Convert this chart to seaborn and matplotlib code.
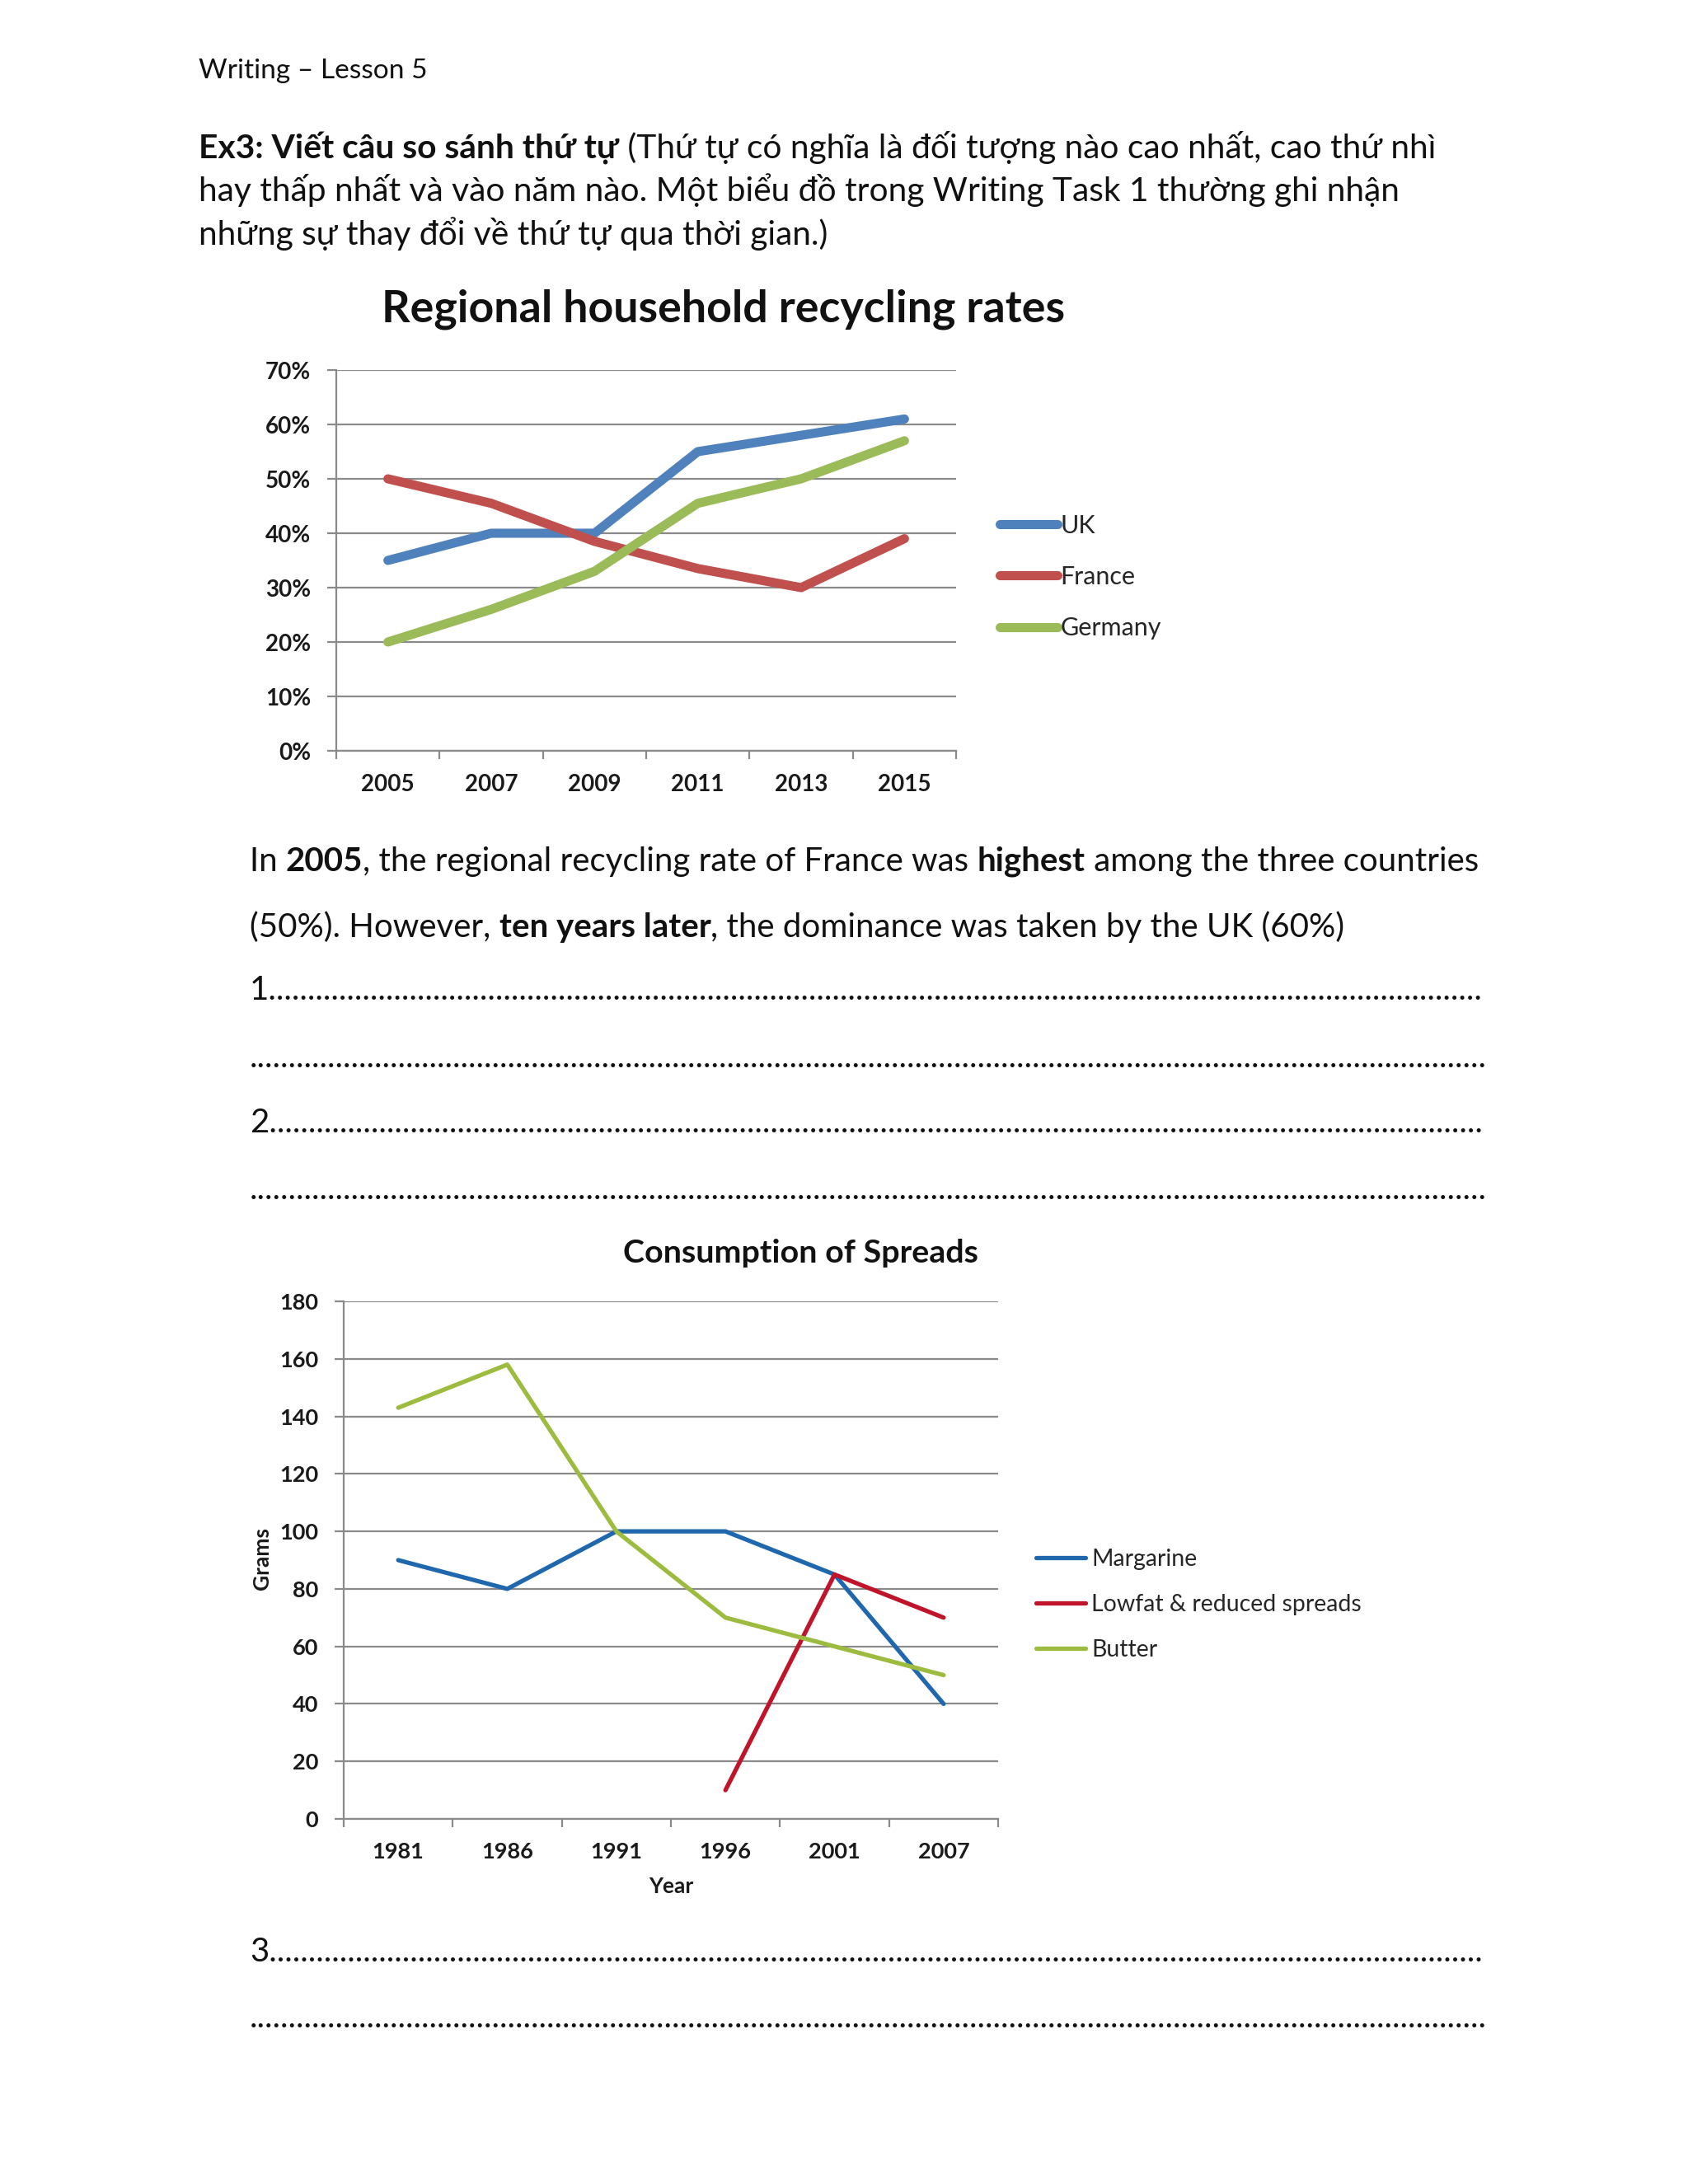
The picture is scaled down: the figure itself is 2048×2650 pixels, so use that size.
import numpy as np
import pandas as pd
import matplotlib
matplotlib.use("Agg")
import matplotlib.pyplot as plt
import seaborn as sns
from matplotlib.transforms import IdentityTransform
from matplotlib.ticker import FuncFormatter

# ---------------- data ----------------
rec_years = ["2005", "2007", "2009", "2011", "2013", "2015"]
rec_uk = [35, 40, 40, 55, 58, 61]
rec_france = [50, 45.5, 38.5, 33.5, 30, 39]
rec_germany = [20, 26, 33, 45.5, 50, 57]
rec_yticks = [0, 10, 20, 30, 40, 50, 60, 70]

spr_years = ["1981", "1986", "1991", "1996", "2001", "2007"]
spr_margarine = [90, 80, 100, 100, 85, 40]
spr_lowfat = [np.nan, np.nan, np.nan, 10, 85, 70]
spr_butter = [143, 158, 100, 70, 60, 50]
spr_yticks = [0, 20, 40, 60, 80, 100, 120, 140, 160, 180]

# ---------------- setup ----------------
W, H, DPI = 2048, 2650, 100
sns.set_theme(style="white")
FAM = ["Lato", "Noto Sans", "DejaVu Sans"]
plt.rcParams["font.family"] = FAM

fig = plt.figure(figsize=(W / DPI, H / DPI), dpi=DPI)
fig.patch.set_facecolor("white")
renderer = fig.canvas.get_renderer()
PIX = IdentityTransform()
GRID = "#8a8a8a"
TXT = "#111111"


def box(l, t, r, b):
    return [l / W, 1 - b / H, (r - l) / W, (b - t) / H]


def seg_w(s, fs, weight):
    t = fig.text(0, 0, s + "|", fontsize=fs, fontweight=weight, family=FAM, transform=PIX)
    m = fig.text(0, 0, "|", fontsize=fs, fontweight=weight, family=FAM, transform=PIX)
    w = t.get_window_extent(renderer).width - m.get_window_extent(renderer).width
    t.remove()
    m.remove()
    return w


def line_w(segs, fs):
    return sum(seg_w(s, fs, "bold" if b else "normal") for s, b in segs)


def fit(segs, target, fs0=30.0):
    return fs0 * target / line_w(segs, fs0)


def draw_line(segs, x, ybase, fs, color=TXT, center=False):
    if center:
        x = x - line_w(segs, fs) / 2
    for s, b in segs:
        wt = "bold" if b else "normal"
        fig.text(x, H - ybase, s, fontsize=fs, fontweight=wt, family=FAM,
                 transform=PIX, va="baseline", ha="left", color=color)
        x += seg_w(s, fs, wt)
    return x


def dots(prefix, x, ybase, x_end, fs):
    dw = seg_w("." * 200, fs, "normal") / 200
    pw = seg_w(prefix, fs, "normal") if prefix else 0
    n = int((x_end - x - pw) / dw)
    fig.text(x, H - ybase, prefix + "." * n, fontsize=fs, family=FAM,
             transform=PIX, va="baseline", ha="left", color=TXT)


# ---------------- page text ----------------
hdr = [("Writing \u2013 Lesson 5", False)]
draw_line(hdr, 241, 95, fit(hdr, 277))

ex1 = [("Ex3: Vi\u1ebft c\u00e2u so s\u00e1nh th\u1ee9 t\u1ef1", True),
       (" (Th\u1ee9 t\u1ef1 c\u00f3 ngh\u0129a l\u00e0 \u0111\u1ed1i t\u01b0\u1ee3ng n\u00e0o cao nh\u1ea5t, cao th\u1ee9 nh\u00ec", False)]
ex2 = [("hay th\u1ea5p nh\u1ea5t v\u00e0 v\u00e0o n\u0103m n\u00e0o. M\u1ed9t bi\u1ec3u \u0111\u1ed3 trong Writing Task 1 th\u01b0\u1eddng ghi nh\u1eadn", False)]
ex3 = [("nh\u1eefng s\u1ef1 thay \u0111\u1ed5i v\u1ec1 th\u1ee9 t\u1ef1 qua th\u1eddi gian.)", False)]
fs_ex = fit(ex1, 1502)
draw_line(ex1, 241, 192, fs_ex)
draw_line(ex2, 241, 244, fs_ex)
draw_line(ex3, 241, 297, fs_ex)

b1 = [("In ", False), ("2005", True), (", the regional recycling rate of France was ", False),
      ("highest", True), (" among the three countries", False)]
b2 = [("(50%). However, ", False), ("ten years later", True),
      (", the dominance was taken by the UK (60%)", False)]
fs_b = fit(b1, 1490)
draw_line(b1, 303, 1057, fs_b)
draw_line(b2, 303, 1137, fs_b)
X_END = 1808
dots("1", 303, 1213, X_END, fs_b)
dots("", 303, 1295, X_END, fs_b)
dots("2", 303, 1374, X_END, fs_b)
dots("", 303, 1455, X_END, fs_b)
dots("3", 303, 2380, X_END, fs_b)
dots("", 303, 2460, X_END, fs_b)

# ---------------- chart titles ----------------
t1 = [("Regional household recycling rates", True)]
draw_line(t1, 878, 390, fit(t1, 829), color="#111111", center=True)
t2 = [("Consumption of Spreads", True)]
draw_line(t2, 971, 1532, fit(t2, 430), color="#111111", center=True)


def style_axes(ax, years, yticks, ylim, tick_fs, fmt=None):
    n = len(years)
    ax.set_xlim(-0.5, n - 0.5)
    ax.set_ylim(*ylim)
    ax.set_yticks(yticks)
    if fmt:
        ax.yaxis.set_major_formatter(FuncFormatter(fmt))
    ax.set_xticks(np.arange(-0.5, n, 1.0))
    ax.set_xticklabels([])
    ax.set_xticks(np.arange(n), minor=True)
    ax.set_xticklabels(years, minor=True)
    ax.tick_params(axis="x", which="major", bottom=True, length=7, width=1.6,
                   color=GRID, direction="out")
    ax.tick_params(axis="x", which="minor", bottom=True, length=0, pad=20,
                   labelsize=tick_fs, labelcolor="#1a1a1a")
    ax.tick_params(axis="y", which="major", left=True, length=8, width=1.6,
                   color=GRID, direction="out", pad=14, labelsize=tick_fs,
                   labelcolor="#1a1a1a")
    for lab in ax.get_xticklabels(minor=True) + ax.get_yticklabels():
        lab.set_fontweight("bold")
    ax.grid(axis="y", color=GRID, linewidth=1.6)
    ax.grid(axis="x", visible=False)
    ax.set_axisbelow(True)
    for s in ["top", "right"]:
        ax.spines[s].set_visible(False)
    for s in ["left", "bottom"]:
        ax.spines[s].set_color(GRID)
        ax.spines[s].set_linewidth(1.6)
    ax.set_xlabel("")
    ax.set_ylabel("")
    ax.set_facecolor("white")


# ---------------- chart 1 ----------------
ax1 = fig.add_axes(box(408, 449, 1160, 911))
df1 = pd.DataFrame({
    "pos": np.tile(np.arange(len(rec_years)), 3),
    "value": rec_uk + rec_france + rec_germany,
    "series": ["UK"] * 6 + ["France"] * 6 + ["Germany"] * 6,
})
pal1 = {"UK": "#4F81BD", "France": "#C0504D", "Germany": "#9BBB59"}
sns.lineplot(data=df1, x="pos", y="value", hue="series", palette=pal1,
             linewidth=8, ax=ax1, sort=False, solid_capstyle="round",
             solid_joinstyle="round")
style_axes(ax1, rec_years, rec_yticks, (0, 70), 20, lambda v, p: f"{int(v)}%")
h, l = ax1.get_legend_handles_labels()
ax1.legend(h, l, loc="center left", bbox_to_anchor=(1213 / W, 1 - 700 / H),
           bbox_transform=fig.transFigure, frameon=False, borderpad=0,
           borderaxespad=0, handlelength=2.3, handletextpad=0.1,
           labelspacing=1.12, prop={"size": 22, "family": FAM})
for ln in ax1.get_legend().get_lines():
    ln.set_linewidth(8)
    ln.set_solid_capstyle("round")

# ---------------- chart 2 ----------------
ax2 = fig.add_axes(box(417, 1579, 1211, 2207))
df2 = pd.DataFrame({
    "pos": np.tile(np.arange(len(spr_years)), 3),
    "value": spr_margarine + spr_lowfat + spr_butter,
    "series": ["Margarine"] * 6 + ["Lowfat & reduced spreads"] * 6 + ["Butter"] * 6,
})
pal2 = {"Margarine": "#1F68AE", "Lowfat & reduced spreads": "#C0142A", "Butter": "#9DBB3F"}
sns.lineplot(data=df2, x="pos", y="value", hue="series", palette=pal2,
             linewidth=3.8, ax=ax2, sort=False)
style_axes(ax2, spr_years, spr_yticks, (0, 180), 19.5)
ax2.set_xlabel("Year", fontsize=19, fontweight="bold", color="#1a1a1a")
ax2.set_ylabel("Grams", fontsize=19, fontweight="bold", color="#1a1a1a")
ax2.xaxis.set_label_coords(0.5, -0.112)
ax2.yaxis.set_label_coords(-0.125, 0.503)
ax2.yaxis.label.set_va("center")
h, l = ax2.get_legend_handles_labels()
ax2.legend(h, l, loc="center left", bbox_to_anchor=(1257 / W, 1 - 1947 / H),
           bbox_transform=fig.transFigure, frameon=False, borderpad=0,
           borderaxespad=0, handlelength=2.1, handletextpad=0.25,
           labelspacing=1.02, prop={"size": 20.5, "family": FAM})
for ln in ax2.get_legend().get_lines():
    ln.set_linewidth(3.8)

fig.savefig("out.png", dpi=DPI, facecolor="white")
